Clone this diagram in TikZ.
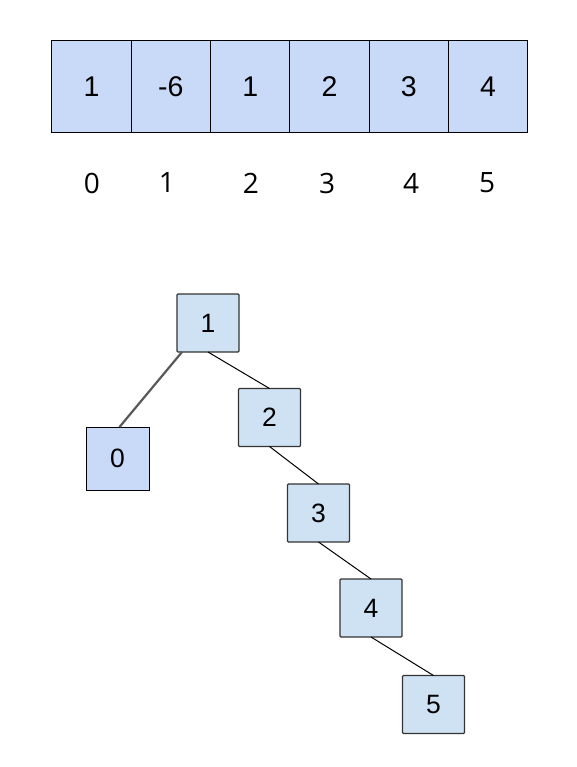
\documentclass[tikz,border=0pt]{standalone}
\usepackage{fontspec}
\usepackage{tkz-graph}
\newfontfamily\arialfont{Liberation Sans}
\newfontfamily\opensansfont{Open Sans}
\definecolor{cellcolor}{RGB}{201,218,248}
\definecolor{treecolor}{RGB}{207,226,243}
\definecolor{rootedge}{RGB}{89,89,89}
\definecolor{boxline}{RGB}{51,51,51}

\begin{document}
\begin{tikzpicture}[x=1pt,y=-1pt]
% arreglo con sus indices y el arbol que forman los valores
\useasboundingbox (0,0) rectangle (577,767);
\tikzset{idx/.style={font=\opensansfont\fontsize{28}{28}\selectfont},
         link/.style={draw=black,line width=1pt},
         rootlink/.style={draw=rootedge,line width=2.2pt}}

%part array
\SetVertexNormal[Shape = rectangle, FillColor = cellcolor, LineColor = black,
                 LineWidth = 1pt]
\tikzset{VertexStyle/.append style={minimum width=79.3pt, minimum height=92pt,
         inner sep=0pt, text=black, font=\arialfont\fontsize{28.5}{28.5}\selectfont}}
\Vertex[x=91.6, y=87, L={1}]{a0}
\Vertex[x=170.9, y=87, L={-6}]{a1}
\Vertex[x=250.2, y=87, L={1}]{a2}
\Vertex[x=329.5, y=87, L={2}]{a3}
\Vertex[x=408.8, y=87, L={3}]{a4}
\Vertex[x=488.1, y=87, L={4}]{a5}

%part indices
\node[idx] (i0) at (92,183) {0};
\node[idx] (i1) at (167,183) {1};
\node[idx] (i2) at (251,183) {2};
\node[idx] (i3) at (327,183) {3};
\node[idx] (i4) at (411,183) {4};
\node[idx] (i5) at (487,183) {5};

%part tree
\SetVertexNormal[Shape = rectangle, FillColor = treecolor, LineColor = boxline,
                 LineWidth = 1.3pt]
\tikzset{VertexStyle/.append style={minimum width=62pt, minimum height=58pt,
         inner sep=0pt, rounded corners=1pt, text=black,
         font=\arialfont\fontsize{26.5}{26.5}\selectfont}}
\Vertex[x=208, y=323, L={1}]{t1}
\Vertex[x=269.5, y=417.5, L={2}]{t2}
\Vertex[x=318.5, y=513, L={3}]{t3}
\Vertex[x=371, y=608, L={4}]{t4}
\Vertex[x=433.5, y=704.5, L={5}]{t5}
\SetVertexNormal[Shape = rectangle, FillColor = cellcolor, LineColor = black,
                 LineWidth = 1pt]
\tikzset{VertexStyle/.append style={minimum width=63pt, minimum height=63pt,
         inner sep=0pt, text=black, font=\arialfont\fontsize{26.5}{26.5}\selectfont}}
\Vertex[x=117.5, y=458.5, L={0}]{t0}

%part links
\draw[rootlink] ([xshift=-26pt]t1.south) -- ([xshift=2pt]t0.north);
\draw[link] (t1.south) -- (t2.north);
\draw[link] (t2.south) -- (t3.north);
\draw[link] (t3.south) -- (t4.north);
\draw[link] (t4.south) -- (t5.north);

\end{tikzpicture}
\end{document}
